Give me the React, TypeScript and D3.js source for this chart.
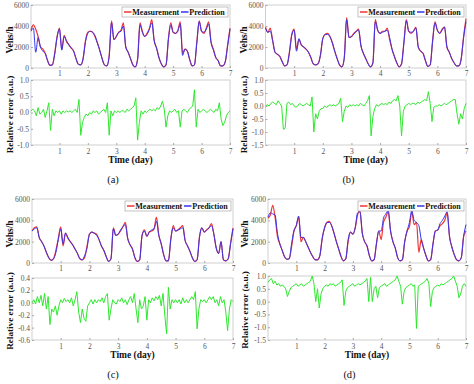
import React, { useEffect, useRef } from 'react';
import * as d3 from 'd3';

// x ticks (days) and flow ticks shared by all panels
const dayTicks = [1, 2, 3, 4, 5, 6, 7];
const flowTicks = [0, 2000, 4000, 6000];

// traffic flow, one value every 2 h (12 per day), Vehs/h
const measA = [3600,4100,3700,3000,2000,1800,1400,700,250,300,1400,3000,
  3800,1800,3100,2500,2200,1900,1600,900,350,300,900,2600,
  3400,3500,3400,3000,2400,1700,900,300,200,1200,4500,2700,
  3000,3400,3600,4300,2000,1500,900,300,100,900,4300,3500,
  3000,3300,3800,4600,2600,1900,1000,400,100,300,2800,4300,
  3400,3300,3600,4400,1400,1800,1600,800,200,300,2500,4500,
  3500,3300,3800,4400,2500,1800,1000,700,200,200,600,2200,
  3800];
const predA = [3500,3800,1500,2900,2000,1600,1400,700,250,300,1300,2900,
  3700,1700,3000,2600,2200,1900,1600,900,350,300,900,2500,
  3300,3500,3400,3100,2400,1700,900,300,200,1100,4300,2700,
  3000,3400,3500,4000,2000,1500,900,300,100,800,4100,3400,
  3000,3200,3700,4300,2600,1900,1000,400,100,300,2700,4100,
  3400,3300,3500,4200,1200,1800,1600,800,200,300,2400,4400,
  3500,3400,3700,4200,2400,1700,1000,700,200,200,600,2100,
  3700];
const measB = [3900,3400,3800,2600,1500,1300,1100,600,200,300,1500,3200,
  3700,1800,2700,2200,2000,1800,1500,1000,400,300,400,1200,
  2800,3200,3300,3000,2400,1600,900,300,100,1000,4800,2900,
  3000,3300,3500,3700,2100,1400,900,400,100,500,4600,3600,
  3300,3500,3500,3800,2700,1800,1100,500,100,400,2500,4600,
  3500,3300,3500,3900,2000,1600,1400,700,150,300,2600,4400,
  3600,3300,3700,3900,2000,1500,900,500,200,200,900,3000,
  4700];
const predB = [3800,3400,3500,2600,1500,1300,1100,600,200,300,1400,3100,
  3600,1600,2800,2200,2000,1800,1500,1000,400,300,400,1200,
  2800,3200,3200,3000,2400,1600,900,300,100,900,4600,2900,
  3000,3200,3500,3600,2100,1400,900,400,100,500,4400,3600,
  3300,3400,3500,3600,2900,1800,1100,500,100,400,2400,4500,
  3500,3400,3500,3800,2000,1600,1400,700,150,300,2500,4300,
  3600,3300,3600,3900,2000,1500,900,500,200,200,900,2900,
  4400];
const measC = [3000,3300,3400,2400,2000,1600,1000,500,250,400,1200,2300,
  3400,1600,2800,2300,2000,1700,1300,900,400,300,500,1600,
  2700,2900,2800,2700,2200,1600,1200,600,150,400,3300,2600,
  2700,3000,3400,3800,2300,1700,1300,500,150,300,2600,3100,
  2500,2900,3000,3200,4300,2600,1800,800,200,200,2200,3500,
  3000,3100,3300,3500,2100,1600,1100,500,150,300,2500,3300,
  2900,3100,3300,3700,2700,1400,900,2000,300,200,400,1900,
  3300];
const predC = [3000,3200,3300,2400,2000,1600,1000,500,250,400,1000,2200,
  3200,1800,2800,2400,2000,1700,1300,900,400,300,700,1400,
  2700,2900,2800,2600,2200,1600,1200,600,150,400,3200,2600,
  2700,3100,3400,3600,2300,1700,1300,500,150,300,2600,3000,
  2500,2900,3100,3200,3900,2600,1800,800,200,200,2200,3300,
  3000,3100,3200,3300,2100,1600,1100,500,150,300,2400,3300,
  2900,3100,3300,3500,2700,1400,900,2000,300,200,400,1800,
  3200];
const measD = [4200,4500,5400,4300,2500,1800,1200,600,350,400,1500,3000,
  3500,4300,2000,2400,2000,1500,1000,600,300,300,700,2300,
  3300,3800,3900,3500,2800,2000,1300,600,200,400,2000,2900,
  2700,3300,4500,4900,2800,2000,1600,700,200,300,1800,3000,
  2200,3800,4300,4800,3000,2000,1400,500,200,300,2000,3000,
  3400,4800,3600,3800,1000,2200,1400,700,200,300,1800,3000,
  3100,3500,3700,4000,4700,2500,1500,800,300,200,500,2500,
  3000];
const predD = [4300,4700,4600,4500,2800,1800,1200,600,350,400,1800,3000,
  3500,4400,2400,2400,2000,1500,1000,600,300,300,700,2300,
  3300,3800,3800,3500,2800,2000,1300,600,200,400,2200,2900,
  2700,3300,4700,4800,2800,2000,1600,700,200,300,1800,3000,
  3000,4200,4600,4900,3000,2000,1400,500,200,300,2000,3000,
  3800,4900,4000,3800,3500,2200,1400,700,200,300,1800,3000,
  3100,3700,4000,4400,4800,2500,1500,800,300,200,500,2500,
  3600];

// relative error, 16 values per day
const errA = [0.05,0.1,0.05,-0.1,0.15,-0.05,0,0.1,-0.15,0.05,0.3,-0.55,0.1,-0.1,0.05,0,
  0.05,-0.05,0.05,0,0.05,0.02,0.05,0,0.05,0.1,0,0.4,-0.7,-0.3,-0.15,-0.05,
  -0.1,0,-0.05,0.05,0,0.05,-0.05,0,0.05,0.1,0,0.3,-0.7,0.05,-0.1,0.05,
  0,0.05,0,0.05,0.05,0,0.1,0.05,0.1,0.15,0.2,0.45,-0.85,-0.3,0.05,-0.05,
  0.05,0,0.05,0.1,0.05,0.1,0.05,0.15,0.1,0.2,0.35,0.1,-0.45,-0.1,0.05,0,
  0.05,0.1,0,0.05,-0.45,0.05,0.1,0.05,0,0.1,0.15,0.2,0.7,-0.45,0.1,0,
  0.05,0.1,0.05,0,0.05,0.1,0.05,0,0.1,0.05,0.3,-0.2,-0.4,-0.3,-0.1,0,
  0.05];
const errB = [0,0.05,0,0.1,0.15,0.1,0.05,0.2,0.1,0,-0.9,-0.85,0.1,0.15,0.05,0.1,
  0,-0.05,0,0.1,0.05,0,0.05,0.1,0.05,0,0.35,-1,-0.3,-0.5,-0.2,-0.1,
  -0.1,0,-0.05,0,0.05,0,0.05,0,0.05,0.1,0.3,-0.6,-0.2,0,-0.05,0.05,
  0,0.05,0,0.05,0,0.1,0.05,0,0.1,0.2,0.4,-1.15,-0.4,-0.1,0.05,0,
  0.05,0.1,0.05,0.1,0.05,0.15,0.1,0.2,0.25,0.2,0.4,0,-1.15,-0.2,0,0.05,
  0.1,0.05,0.1,0.1,0.05,0.15,0.1,0.15,0.2,0.25,0.2,0.55,0.1,-0.6,-0.05,0,
  0,0.05,0,0.05,0.1,0.05,0.1,0.15,0.2,0.25,0.25,-0.3,-0.7,-0.3,-0.5,-0.1,
  0.1];
const errC = [0,0.05,-0.02,0.1,0,0.12,-0.05,0.15,-0.1,0.1,-0.35,-0.1,-0.15,-0.05,-0.2,-0.05,
  0.05,0,0.07,0.02,0.05,0,0.08,-0.05,0.05,0.18,-0.15,-0.32,-0.1,-0.25,-0.3,-0.05,
  0,0.05,-0.02,0.05,0,0.05,0.02,0.08,0,0.1,0.15,-0.28,-0.1,0.05,0,-0.02,
  0.05,0.02,0.08,0,0.05,-0.03,0.05,0.1,0,0.15,-0.1,-0.32,0.05,-0.1,-0.05,0.1,
  -0.28,0.05,0,0.08,0.03,0.1,0.05,0.12,-0.05,0.15,-0.2,-0.5,0.25,-0.1,0.05,0,
  0.05,0,0.05,-0.02,0.08,0,0.05,0,0.05,0.1,0.05,0.18,-0.42,-0.1,0.05,0.02,
  0.05,0,0.05,0.1,0.05,0.1,0,0.05,-0.05,0.1,0,0.05,-0.15,-0.45,-0.1,0.05,
  0.02];
const errD = [0.75,0.85,0.9,0.7,0.8,0.65,0.7,0.6,0.65,0.6,0.5,0.2,0.4,0.55,0.6,0.65,
  0.7,0.6,0.65,0.7,0.6,0.65,0.7,0.75,0.8,1,0.7,0,0.5,-0.25,0.3,0.5,
  0.6,0.65,0.6,0.7,0.65,0.7,0.6,0.65,0.7,0.75,0.85,-0.15,0.4,0.55,0.6,0.65,
  0.7,0.6,0.65,0.7,0.65,0.7,0.75,0.8,0.9,0,0.95,0,0.5,0.6,0.15,0.55,
  0.6,0.65,0.7,0.6,0.65,0.7,0.75,0.8,0.85,1,0.8,0.6,-0.1,0.4,0.55,0.6,
  0.65,0.7,0.6,0.65,-1.05,0.6,0.65,0.7,0.75,0.8,0.9,0.7,-0.2,0.4,0.55,0.6,
  0.65,0.6,0.7,0.65,0.7,0.75,0.8,0.85,0.9,1,0.8,0.6,0.15,0.3,0.6,0.7,
  0.6];

const errTicksAB = [-1.5, -1, -0.5, 0, 0.5, 1];
const errTicksA = [-1, -0.5, 0, 0.5, 1];
const errTicksC = [-0.6, -0.4, -0.2, 0, 0.2, 0.4];

const FONT = "'Liberation Serif', 'Times New Roman', serif";

const panels = [
  { tag: '(a)', meas: measA, pred: predA, err: errA, left: 31, right: 230, top: 5, fBot: 68, eTop: 80, eBot: 145, eDom: [-1, 1], eTicks: errTicksA, labX: 12.5, tagX: 113 },
  { tag: '(b)', meas: measB, pred: predB, err: errB, left: 265.5, right: 466, top: 5, fBot: 68, eTop: 80, eBot: 145, eDom: [-1.5, 1], eTicks: errTicksAB, labX: 247, tagX: 348.5 },
  { tag: '(c)', meas: measC, pred: predC, err: errC, left: 32, right: 233, top: 199, fBot: 263, eTop: 278, eBot: 340, eDom: [-0.6, 0.4], eTicks: errTicksC, labX: 12.5, tagX: 113 },
  { tag: '(d)', meas: measD, pred: predD, err: errD, left: 268, right: 466, top: 199, fBot: 263, eTop: 276, eBot: 340, eDom: [-1.5, 1], eTicks: errTicksAB, labX: 248, tagX: 349.5 },
];

function styleAxis(g) {
  g.select('.domain').remove();
  g.selectAll('line').attr('stroke', '#aaa');
  g.selectAll('text').attr('font-family', FONT).attr('font-size', 7.5).attr('fill', '#555');
}

function drawPanel(svg, p) {
  const g = svg.append('g');
  const x = d3.scaleLinear().domain([0, 7]).range([p.left, p.right]);
  const yF = d3.scaleLinear().domain([0, 6000]).range([p.fBot, p.top]);
  const yE = d3.scaleLinear().domain(p.eDom).range([p.eBot, p.eTop]);

  // frames
  [[p.top, p.fBot], [p.eTop, p.eBot]].forEach(([t, b]) => {
    g.append('rect').attr('x', p.left).attr('y', t)
      .attr('width', p.right - p.left).attr('height', b - t)
      .attr('fill', 'white').attr('stroke', '#c4c4c4').attr('stroke-width', 0.8);
  });

  g.append('g').attr('transform', `translate(0,${p.fBot})`)
    .call(d3.axisBottom(x).tickValues(dayTicks).tickSize(-2).tickPadding(3).tickFormat(d3.format('d')))
    .call(styleAxis);
  g.append('g').attr('transform', `translate(0,${p.eBot})`)
    .call(d3.axisBottom(x).tickValues(dayTicks).tickSize(-2).tickPadding(3.5).tickFormat(d3.format('d')))
    .call(styleAxis);
  g.append('g').attr('transform', `translate(${p.left},0)`)
    .call(d3.axisLeft(yF).tickValues(flowTicks).tickSize(-2).tickPadding(2).tickFormat(d3.format('d')))
    .call(styleAxis);
  g.append('g').attr('transform', `translate(${p.left},0)`)
    .call(d3.axisLeft(yE).tickValues(p.eTicks).tickSize(-2).tickPadding(2).tickFormat((d) => d.toFixed(1)))
    .call(styleAxis);

  const flowLine = d3.line().x((d, i) => x(i / 12)).y((d) => yF(d)).curve(d3.curveMonotoneX);
  const errLine = d3.line().x((d, i) => x(i / 16)).y((d) => yE(d));

  g.append('path').datum(p.meas).attr('d', flowLine)
    .attr('fill', 'none').attr('stroke', '#f03434').attr('stroke-width', 1.2);
  g.append('path').datum(p.pred).attr('d', flowLine)
    .attr('fill', 'none').attr('stroke', '#3434f0').attr('stroke-width', 1);
  g.append('path').datum(p.err).attr('d', errLine)
    .attr('fill', 'none').attr('stroke', '#2ee82e').attr('stroke-width', 1);

  // legend
  const bx = p.right - 108;
  const by = p.top + 2;
  const lg = g.append('g');
  lg.append('rect').attr('x', bx).attr('y', by).attr('width', 106).attr('height', 10)
    .attr('fill', 'white').attr('stroke', '#999').attr('stroke-width', 0.6);
  [['Measurement', '#f03434', 2], ['Prediction', '#3434f0', 59]].forEach(([name, col, off]) => {
    lg.append('line').attr('x1', bx + off).attr('x2', bx + off + 7.5)
      .attr('y1', by + 5).attr('y2', by + 5).attr('stroke', col).attr('stroke-width', 1.5);
    lg.append('text').attr('x', bx + off + 8.3).attr('y', by + 8)
      .attr('font-family', FONT).attr('font-weight', 'bold').attr('font-size', 8)
      .attr('fill', '#111').text(name);
  });

  // labels
  const lab = (txt, cy, size) => g.append('text')
    .attr('transform', `translate(${p.labX},${cy}) rotate(-90)`)
    .attr('text-anchor', 'middle').attr('font-family', FONT).attr('font-weight', 'bold')
    .attr('font-size', size).attr('fill', '#111').text(txt);
  lab('Vehs/h', p.top + 35, 9.5);
  lab('Relative error (a.u.)', (p.eTop + p.eBot) / 2 + 2, 9.2);

  g.append('text').attr('x', (p.left + p.right) / 2).attr('y', p.eBot + 17.5)
    .attr('text-anchor', 'middle').attr('font-family', FONT).attr('font-weight', 'bold')
    .attr('font-size', 9.5).attr('fill', '#111').text('Time (day)');
  g.append('text').attr('x', p.tagX).attr('y', p.eBot + 38)
    .attr('text-anchor', 'middle').attr('font-family', FONT)
    .attr('font-size', 10.5).attr('fill', '#111').text(p.tag);
}

export default function App() {
  const ref = useRef(null);
  useEffect(() => {
    const svg = d3.select(ref.current);
    svg.selectAll('*').remove();
    svg.append('rect').attr('width', 474).attr('height', 384).attr('fill', 'white');
    panels.forEach((p) => drawPanel(svg, p));
  }, []);
  return (
    <svg ref={ref} width={474} height={384}
      style={{ position: 'absolute', left: 0, top: 0, display: 'block' }} />
  );
}
